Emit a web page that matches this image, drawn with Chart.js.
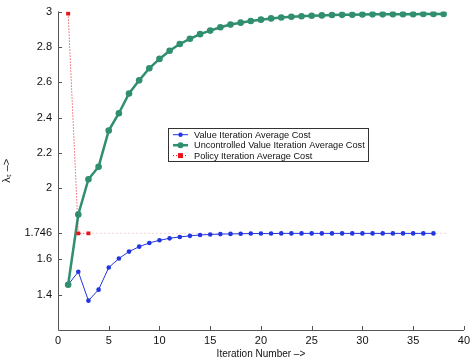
<!DOCTYPE html>
<html><head><meta charset="utf-8">
<script src="https://cdn.jsdelivr.net/npm/chart.js@4"></script>
<style>html,body{margin:0;padding:0;background:#fff}#w{width:474px;height:363px}</style>
</head><body><div id="w"><canvas id="c"></canvas></div>
<script>
const valueIterX = [1,2,3,4,5,6,7,8,9,10,11,12,13,14,15,16,17,18,19,20,21,22,23,24,25,26,27,28,29,30,31,32,33,34,35,36,37];
const valueIter = [1.456,1.529,1.366,1.428,1.553,1.604,1.643,1.671,1.692,1.707,1.718,1.726,1.732,1.737,1.740,1.742,1.743,1.744,1.745,1.745,1.745,1.746,1.746,1.746,1.746,1.746,1.746,1.746,1.746,1.746,1.746,1.746,1.746,1.746,1.746,1.746,1.746];
const uncontrolledX = [1,2,3,4,5,6,7,8,9,10,11,12,13,14,15,16,17,18,19,20,21,22,23,24,25,26,27,28,29,30,31,32,33,34,35,36,37,38];
const uncontrolled = [1.456,1.853,2.052,2.123,2.327,2.425,2.537,2.611,2.679,2.732,2.778,2.816,2.846,2.872,2.892,2.911,2.926,2.937,2.946,2.954,2.961,2.966,2.970,2.973,2.976,2.978,2.980,2.981,2.982,2.983,2.984,2.984,2.985,2.985,2.985,2.986,2.986,2.986];
const policyX = [1,2,3];
const policy = [2.988,1.746,1.746];
const refX = [3,38.5];
const refLine = [1.746,1.746];
const yTicks = [1.4,1.6,1.746,2,2.2,2.4,2.6,2.8,3];
const xTicks = [0,5,10,15,20,25,30,35,40];
const seriesNames = ['Value Iteration Average Cost','Uncontrolled Value Iteration Average Cost','Policy Iteration Average Cost'];

const pts = (xs, ys) => xs.map((x,i)=>({x:x,y:ys[i]}));
const BLUE='#2135e0', GREEN='#2f8f6e', RED='#e8141c';
const FONT='"Liberation Sans", Arial, sans-serif';

const inwardTicks = {
  id:'inwardTicks',
  afterDraw(chart){
    const ctx=chart.ctx, a=chart.chartArea, xs=chart.scales.x, ys=chart.scales.y;
    ctx.save(); ctx.strokeStyle='#555'; ctx.lineWidth=1;
    ctx.beginPath();
    ctx.moveTo(a.left+0.5,a.top); ctx.lineTo(a.left+0.5,a.bottom+0.5); ctx.lineTo(a.right,a.bottom+0.5);
    xTicks.forEach(v=>{const p=Math.round(xs.getPixelForValue(v))+0.5; ctx.moveTo(p,a.bottom); ctx.lineTo(p,a.bottom-4);});
    yTicks.forEach(v=>{const p=Math.round(ys.getPixelForValue(v))+0.5; ctx.moveTo(a.left,p); ctx.lineTo(a.left+4,p);});
    ctx.stroke(); ctx.restore();
  }
};

const legendBox = {
  id:'legendBox',
  afterDraw(chart){
    const ctx=chart.ctx;
    const L=168.5, T=128.5, W=200, H=33;
    ctx.save();
    ctx.fillStyle='#fff'; ctx.fillRect(L,T,W,H);
    ctx.strokeStyle='#333'; ctx.lineWidth=1; ctx.strokeRect(L,T,W,H);
    const rows=[134.7,145.2,155.6];
    const styles=[
      {c:BLUE,lw:1,dash:[],m:'circle',r:2.2},
      {c:GREEN,lw:2.5,dash:[],m:'circle',r:3},
      {c:RED,lw:1,dash:[1,2],m:'square',r:2.5}
    ];
    ctx.font='9.2px '+FONT; ctx.fillStyle='#111'; ctx.textBaseline='middle';
    rows.forEach((y,i)=>{
      const s=styles[i];
      ctx.strokeStyle=s.c; ctx.lineWidth=s.lw; ctx.setLineDash(s.dash);
      ctx.beginPath(); ctx.moveTo(173,y); ctx.lineTo(188,y); ctx.stroke(); ctx.setLineDash([]);
      ctx.fillStyle=s.c;
      if(s.m==='circle'){ctx.beginPath(); ctx.arc(180.5,y,s.r,0,Math.PI*2); ctx.fill();}
      else {ctx.fillRect(180.5-s.r,y-s.r,2*s.r,2*s.r);}
      ctx.fillStyle='#111'; ctx.fillText(seriesNames[i],194,y+0.5);
    });
    ctx.restore();
  }
};

new Chart(document.getElementById('c'),{
  type:'scatter',
  data:{datasets:[
    {label:seriesNames[0],data:pts(valueIterX,valueIter),showLine:true,borderColor:BLUE,backgroundColor:BLUE,borderWidth:1,pointRadius:2.3,pointBorderWidth:0,order:2},
    {label:seriesNames[1],data:pts(uncontrolledX,uncontrolled),showLine:true,borderColor:GREEN,backgroundColor:GREEN,borderWidth:2.5,pointRadius:3.3,pointBorderWidth:0,order:1},
    {label:'ref',data:pts(refX,refLine),showLine:true,borderColor:'#f0b0b0',borderWidth:1,borderDash:[1,3],pointRadius:0,order:4},
    {label:seriesNames[2],data:pts(policyX,policy),showLine:true,borderColor:RED,backgroundColor:RED,borderWidth:1,borderDash:[1,2],pointStyle:'rect',pointRadius:2.8,pointBorderWidth:0,order:0}
  ]},
  options:{
    responsive:true,maintainAspectRatio:false,animation:false,
    layout:{padding:{top:3,right:10,left:0,bottom:0}},
    plugins:{legend:{display:false},tooltip:{enabled:false}},
    scales:{
      x:{type:'linear',min:0,max:40,
        afterBuildTicks:s=>{s.ticks=xTicks.map(v=>({value:v}));},
        afterFit:s=>{s.height=33;},
        grid:{display:false,drawTicks:false},border:{display:false},
        ticks:{font:{family:FONT,size:11},color:'#111',padding:4,maxRotation:0,autoSkip:false},
        title:{display:true,text:'Iteration Number –>',font:{family:FONT,size:10},color:'#111',padding:{top:0,bottom:3}}
      },
      y:{type:'linear',min:1.2,max:3,
        afterBuildTicks:s=>{s.ticks=yTicks.map(v=>({value:v}));},
        afterFit:s=>{s.width=58;},
        grid:{display:false,drawTicks:false},border:{display:false},
        ticks:{font:{family:FONT,size:11,lineHeight:1},color:'#111',padding:6,autoSkip:false,callback:v=>String(v)},
        title:{display:true,text:'λₜ –>',font:{family:FONT,size:11},color:'#111',padding:{top:0,bottom:0}}
      }
    }
  },
  plugins:[inwardTicks,legendBox]
});
</script></body></html>
